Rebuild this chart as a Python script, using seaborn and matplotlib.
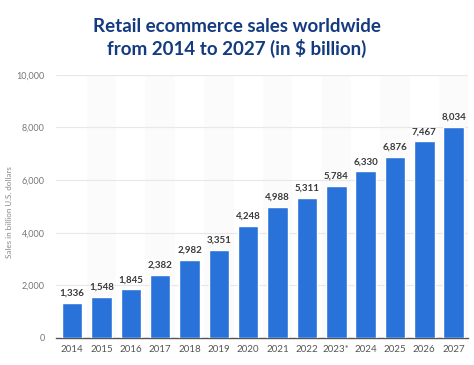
import matplotlib
matplotlib.use("Agg")
import matplotlib.pyplot as plt
import seaborn as sns
import pandas as pd

years = ["2014", "2015", "2016", "2017", "2018", "2019", "2020", "2021", "2022", "2023*", "2024", "2025", "2026", "2027"]
sales = [1336, 1548, 1845, 2382, 2982, 3351, 4248, 4988, 5311, 5784, 6330, 6876, 7467, 8034]
yticks = [0, 2000, 4000, 6000, 8000, 10000]

sns.set_theme(style="white")
plt.rcParams['font.family'] = ['Lato', 'DejaVu Sans']

df = pd.DataFrame({"year": years, "sales": sales})

fig = plt.figure(figsize=(4.74, 3.65), dpi=100)
ax = fig.add_axes([0.118, 0.074, 0.870, 0.721])

for i in range(len(years)):
    if i % 2 == 1:
        ax.axvspan(i - 0.5, i + 0.5, color="#fbfbfb", zorder=0, lw=0)

sns.barplot(data=df, x="year", y="sales", color="#2872d9", saturation=1, width=0.7, ax=ax, zorder=3)

ax.set_ylim(0, 10000)
ax.set_xlim(-0.55, 13.5)
ax.set_yticks(yticks)
ax.set_yticklabels([f"{v:,}" for v in yticks], fontsize=6.5, color="#777777")
ax.tick_params(axis="x", labelsize=7, colors="#555555", length=0, pad=5)
ax.tick_params(axis="y", length=0, pad=8)
ax.yaxis.grid(True, color="#e8e8e8", lw=0.8, zorder=1)
ax.set_axisbelow(True)
for s in ["top", "right", "left"]:
    ax.spines[s].set_visible(False)
ax.spines["bottom"].set_color("#555555")
ax.spines["bottom"].set_linewidth(1.0)
ax.set_xlabel("")
ax.set_ylabel("Sales in billion U.S. dollars", fontsize=5.8, color="#888888")
ax.yaxis.set_label_coords(-0.105, 0.48)

for i, v in enumerate(sales):
    ax.text(i, v + 200, f"{v:,}", ha="center", va="bottom", fontsize=7, color="#3a3a3a", fontweight="bold")

fig.text(0.5, 0.897, "Retail ecommerce sales worldwide\nfrom 2014 to 2027 (in $ billion)",
         ha="center", va="center", fontsize=13.5, fontweight="bold", color="#143a80", linespacing=1.25)

fig.savefig("out.png", dpi=100)
